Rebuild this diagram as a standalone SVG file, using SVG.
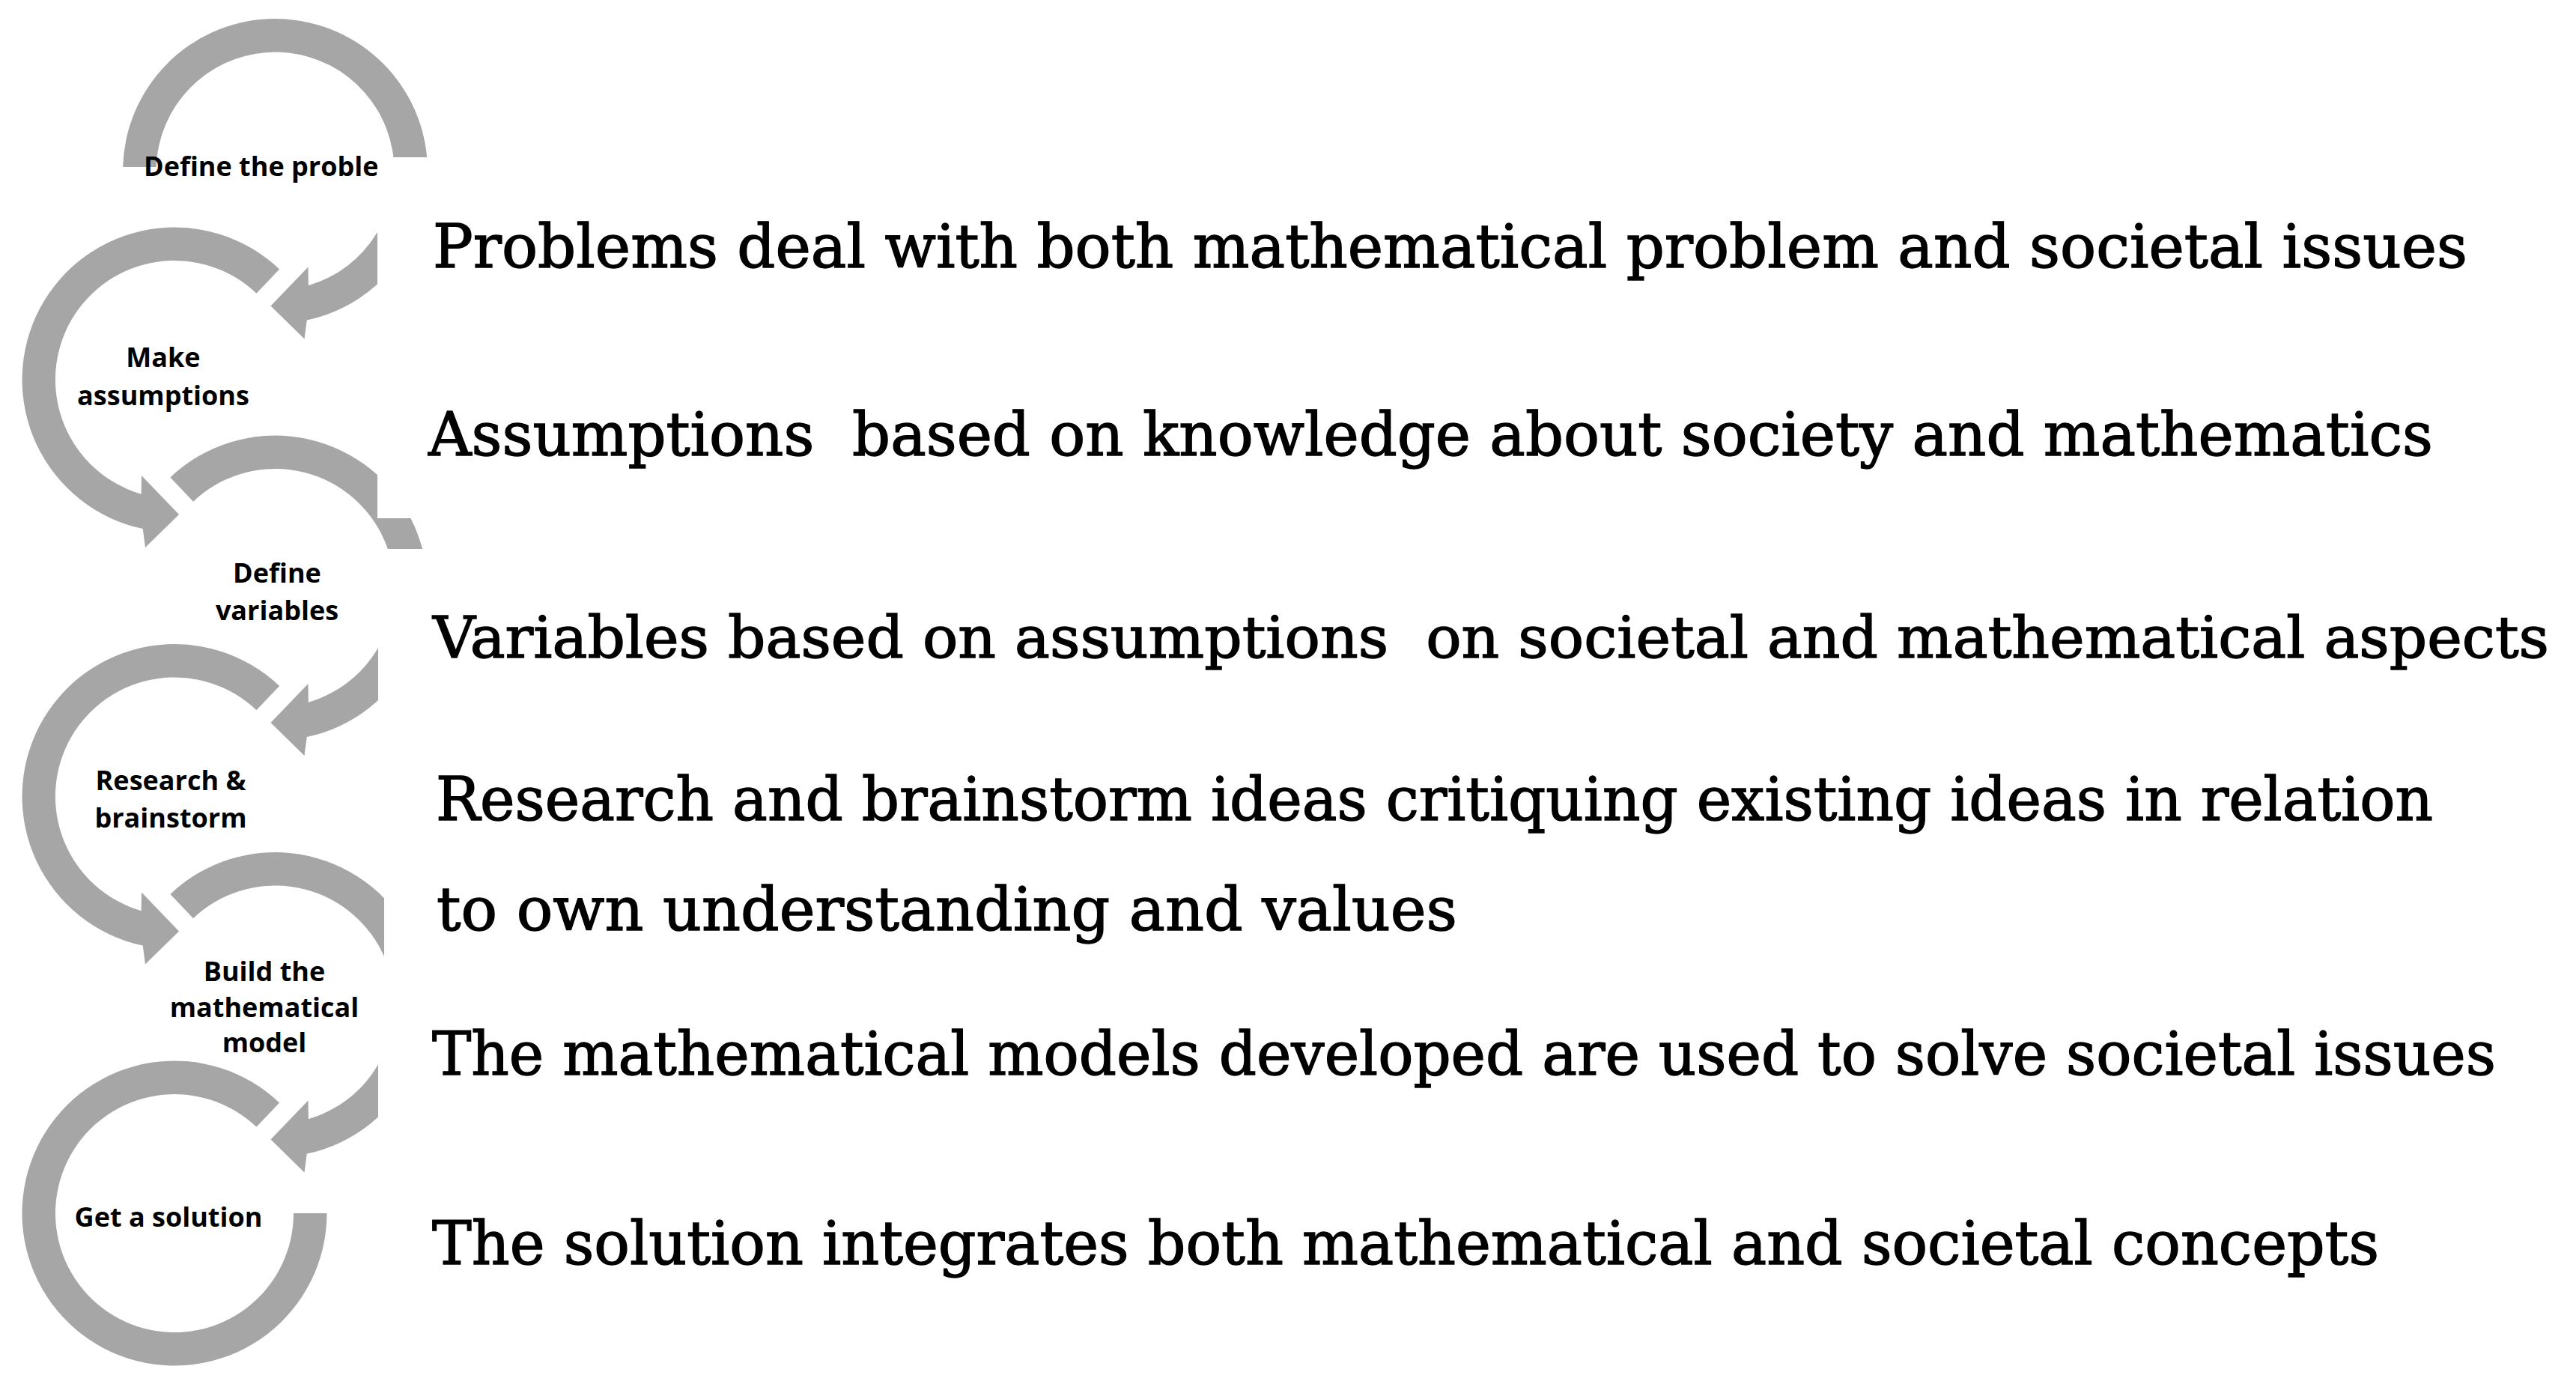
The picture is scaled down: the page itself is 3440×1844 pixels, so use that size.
<svg xmlns="http://www.w3.org/2000/svg" xmlns:xlink="http://www.w3.org/1999/xlink" width="3440" height="1844" viewBox="0 0 3440 1844">
<style>
.ring{fill:#a6a6a6}
.lbl{font-family:"Open Sans","Noto Sans",sans-serif;font-weight:700;font-size:36px;fill:#000}
.desc{font-family:"DejaVu Serif","Liberation Serif",serif;font-size:80px;fill:#000;stroke:#000;stroke-width:1.4px}
</style>
<defs>
<path id="arrowStd" d="M140.1,-147.6 A203.5,203.5 0 1 0 -42.3,199.1 L-39,224 L6,180 L-44,128 L-44.4,152.7 A159,159 0 1 1 109.4,-115.3 Z"/>
<path id="arrowFirst" d="M203.4,-5.5 A203.5,203.5 0 1 0 -42.3,199.1 L-39,224 L6,180 L-44,128 L-44.4,152.7 A159,159 0 1 1 158.9,-5.5 Z"/>
<path id="ringLast" d="M140.1,-147.6 A203.5,203.5 0 1 0 203.5,0 L159,0 A159,159 0 1 1 109.4,-115.3 Z"/>
<clipPath id="boxclip" clipPathUnits="userSpaceOnUse">
<path clip-rule="evenodd" d="M0 0 H3440 V1844 H0 Z M504 210 H3440 V692 H504 Z M505 733 H3440 V1000 H505 Z M513 1000 H3440 V1380 H513 Z M505 1380 H3440 V1844 H505 Z"/>
</clipPath>
</defs>
<rect width="3440" height="1844" fill="#fff"/>
<g id="diagram" clip-path="url(#boxclip)">
<g id="node-define-problem">
<use xlink:href="#arrowFirst" class="ring" transform="translate(367.5,228.5) scale(-1,1)"/>
<text class="lbl" x="192" y="235">Define the problem</text>
</g>
<g id="node-make-assumptions">
<use xlink:href="#arrowStd" class="ring" transform="translate(233,507)"/>
<text class="lbl" x="218" y="490" text-anchor="middle">Make</text>
<text class="lbl" x="218" y="541" text-anchor="middle">assumptions</text>
</g>
<g id="node-define-variables">
<use xlink:href="#arrowStd" class="ring" transform="translate(367.5,785) scale(-1,1)"/>
<text class="lbl" x="370" y="778" text-anchor="middle">Define</text>
<text class="lbl" x="370" y="828" text-anchor="middle">variables</text>
</g>
<g id="node-research">
<use xlink:href="#arrowStd" class="ring" transform="translate(233,1063.5)"/>
<text class="lbl" x="228" y="1055" text-anchor="middle">Research &amp;</text>
<text class="lbl" x="228" y="1105" text-anchor="middle">brainstorm</text>
</g>
<g id="node-build-model">
<use xlink:href="#arrowStd" class="ring" transform="translate(367.5,1341.5) scale(-1,1)"/>
<text class="lbl" x="353" y="1310" text-anchor="middle">Build the</text>
<text class="lbl" x="353" y="1358" text-anchor="middle">mathematical</text>
<text class="lbl" x="353" y="1405" text-anchor="middle">model</text>
</g>
<g id="node-get-solution">
<use xlink:href="#ringLast" class="ring" transform="translate(233,1620)"/>
<text class="lbl" x="225" y="1638" text-anchor="middle">Get a solution</text>
</g>
</g>
<g id="connectors"></g>
<g id="descriptions">
<text class="desc" x="578" y="357" textLength="2717" lengthAdjust="spacingAndGlyphs">Problems deal with both mathematical problem and societal issues</text>
<text class="desc" x="572" y="608" textLength="2677" lengthAdjust="spacingAndGlyphs">Assumptions&#160; based on knowledge about society and mathematics</text>
<text class="desc" x="578" y="878" textLength="2826" lengthAdjust="spacingAndGlyphs" style="font-size:76px">Variables based on assumptions&#160; on societal and mathematical aspects</text>
<text class="desc" x="582" y="1095" textLength="2667" lengthAdjust="spacingAndGlyphs">Research and brainstorm ideas critiquing existing ideas in relation</text>
<text class="desc" x="583" y="1242" textLength="1363" lengthAdjust="spacingAndGlyphs">to own understanding and values</text>
<text class="desc" x="577" y="1435" textLength="2756" lengthAdjust="spacingAndGlyphs">The mathematical models developed are used to solve societal issues</text>
<text class="desc" x="577" y="1688" textLength="2600" lengthAdjust="spacingAndGlyphs">The solution integrates both mathematical and societal concepts</text>
</g>
</svg>
